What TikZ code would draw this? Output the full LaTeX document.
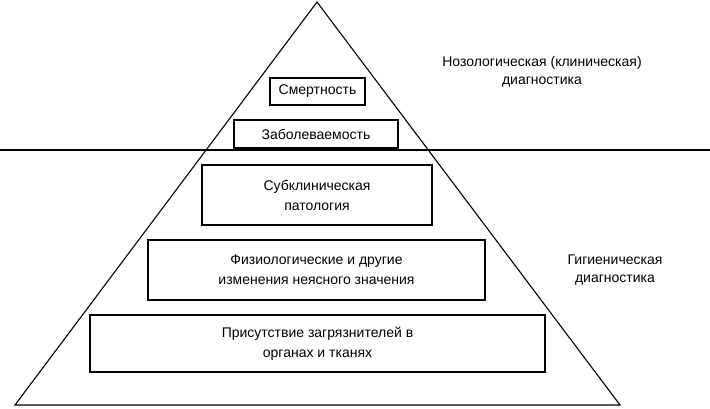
\documentclass[tikz,border=0pt]{standalone}
\usepackage{fontspec}
\setmainfont{Liberation Sans}
\usetikzlibrary{positioning}

\begin{document}
\begin{tikzpicture}[x=1pt,y=-1pt,
    levelbox/.style={draw, line width=1.1pt, inner sep=0pt, align=center, font=\fontsize{14}{20}\selectfont},
    sidetext/.style={align=center, font=\fontsize{14}{18}\selectfont}]
    \useasboundingbox (0,0) rectangle (710,408);

    % Pyramid outline and the dividing line
    \coordinate (apex) at (317,2);
    \coordinate (baseL) at (15,405);
    \coordinate (baseR) at (620,405);
    \draw [line width=1.1pt] (apex) -- (baseR) -- (baseL) -- cycle;
    \draw [line width=1.1pt] (0,150) -- (710,150);

    % Levels of the pyramid
    \node [levelbox, minimum width=95, minimum height=27] (death) at (317.5,91.5) {Смертность};
    \node [levelbox, minimum width=164, minimum height=28] (morb) at (316,134) {Заболеваемость};
    \node [levelbox, minimum width=230, minimum height=60] (subcl) at (317,195) {Субклиническая\\патология};
    \node [levelbox, minimum width=337, minimum height=60] (phys) at (316.5,270) {Физиологические и другие\\изменения неясного значения};
    \node [levelbox, minimum width=455, minimum height=57] (pollut) at (317.5,343.5) {Присутствие загрязнителей в\\органах и тканях};

    % Labels on the right
    \node [sidetext] (clin) at (542,72) {Нозологическая (клиническая)\\диагностика};
    \node [sidetext] (hyg) at (615,270) {Гигиеническая\\диагностика};
\end{tikzpicture}
\end{document}
